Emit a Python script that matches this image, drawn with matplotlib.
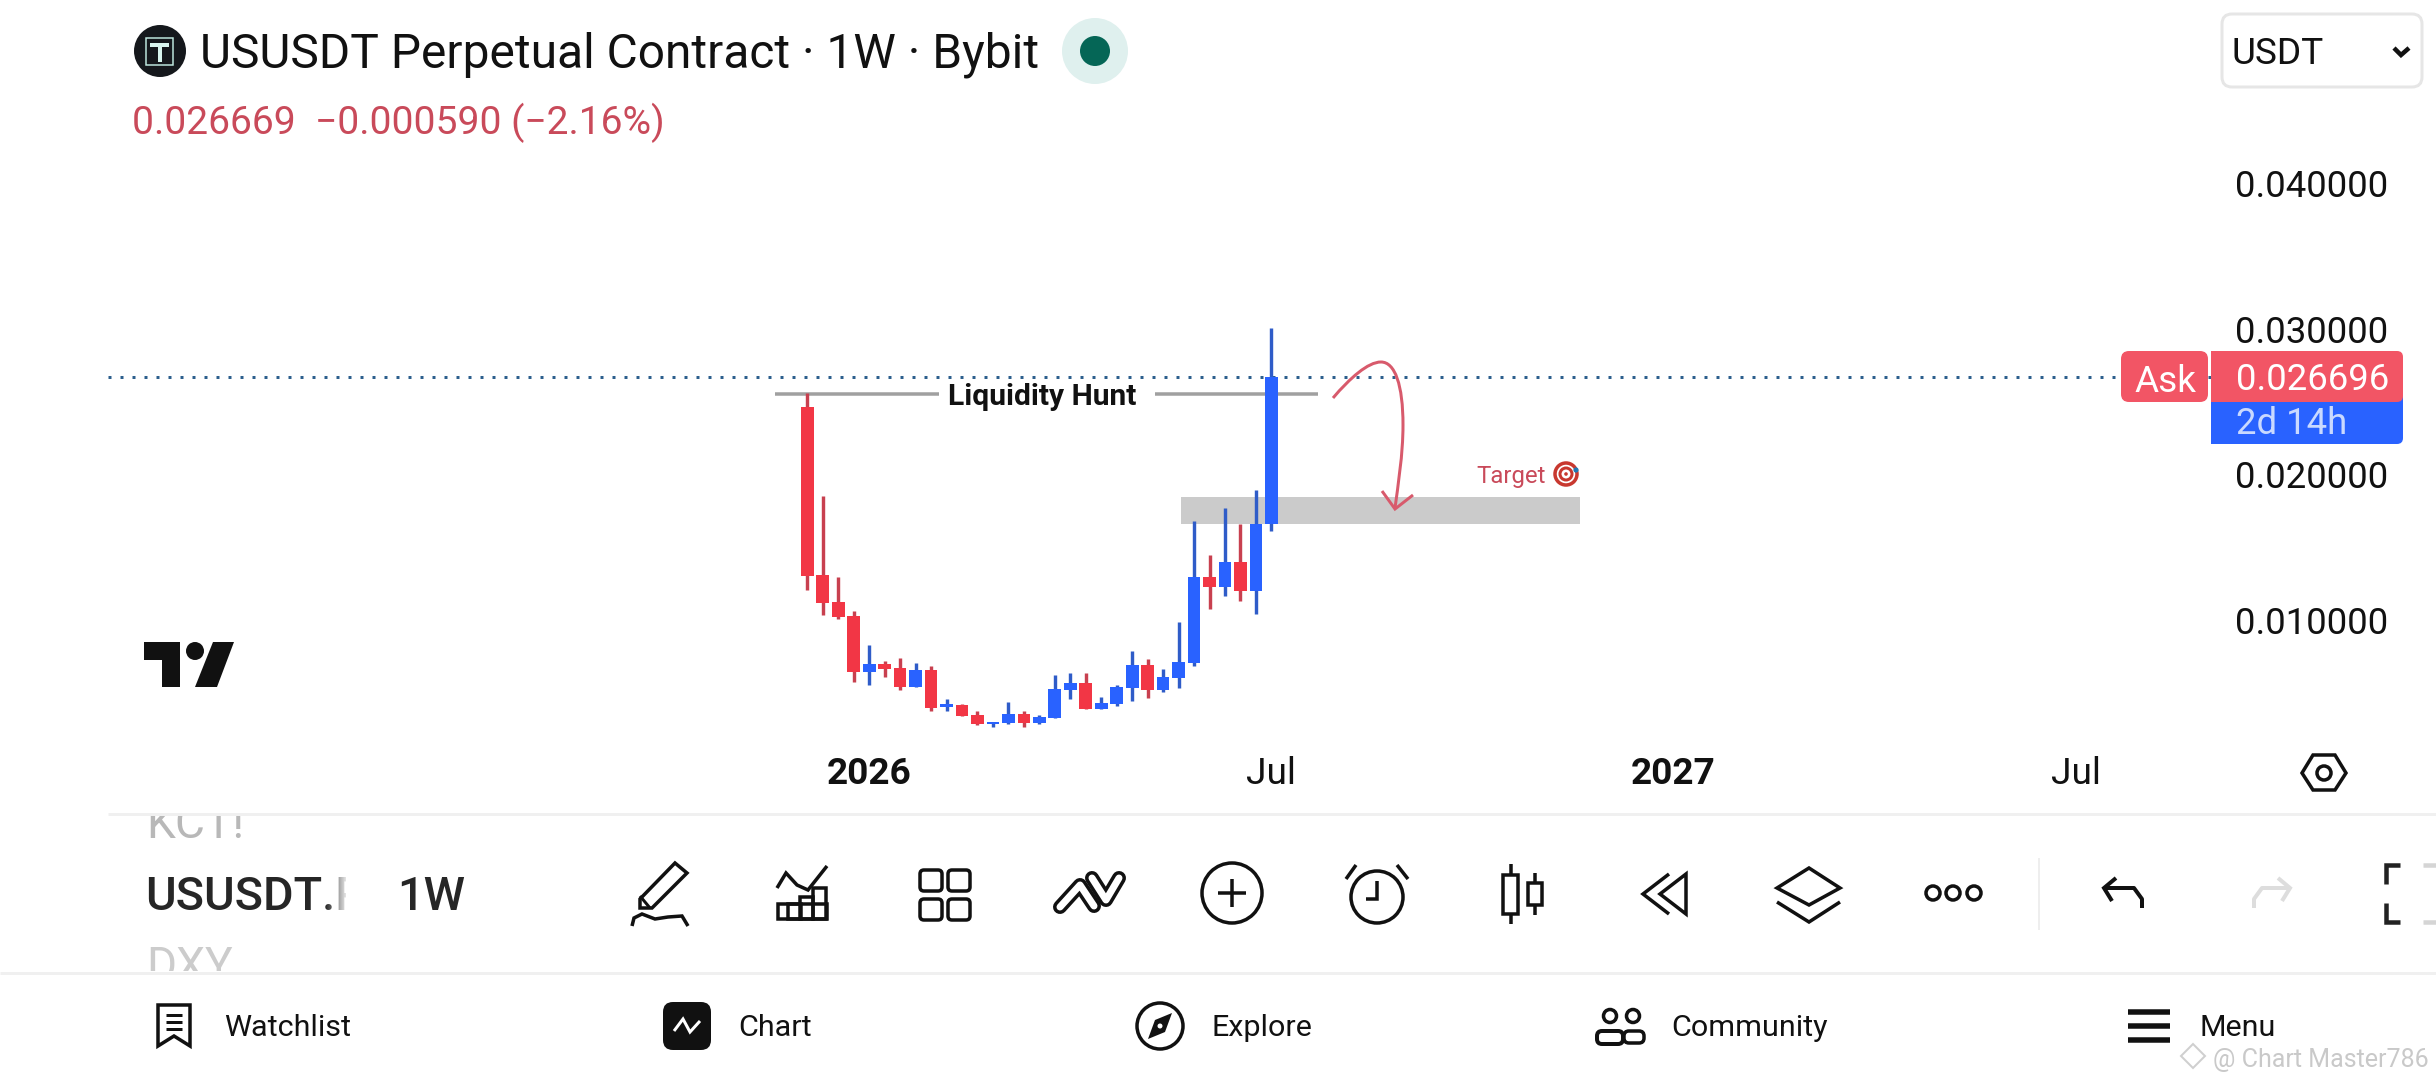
import numpy as np
import matplotlib
matplotlib.use("Agg")
import matplotlib.pyplot as plt
from matplotlib.patches import Circle, FancyBboxPatch, PathPatch, Polygon, Rectangle
from matplotlib.path import Path

plt.rcParams['font.family'] = ['Roboto', 'DejaVu Sans']

# ---- Data ----
opens = [0.02464, 0.01309, 0.01124, 0.01027, 0.00645, 0.00698, 0.00671, 0.00542, 0.00655, 0.00403, 0.00415,
         0.00348, 0.00286, 0.00291, 0.00353, 0.00295, 0.00329, 0.00522, 0.00568, 0.00391, 0.00426, 0.00535,
         0.00691, 0.00522, 0.00604, 0.00707, 0.01295, 0.01229, 0.01398, 0.01201, 0.01657]
highs = [0.02560, 0.01851, 0.01295, 0.01060, 0.00828, 0.00719, 0.00737, 0.00705, 0.00684, 0.00456, 0.00421,
         0.00375, 0.00300, 0.00435, 0.00375, 0.00346, 0.00623, 0.00636, 0.00636, 0.00472, 0.00552, 0.00787,
         0.00732, 0.00664, 0.00986, 0.01679, 0.01446, 0.01769, 0.01659, 0.01892, 0.03004]
lows = [0.01206, 0.01034, 0.01009, 0.00577, 0.00556, 0.00611, 0.00522, 0.00542, 0.00377, 0.00377, 0.00343,
        0.00281, 0.00268, 0.00288, 0.00268, 0.00288, 0.00329, 0.00460, 0.00391, 0.00391, 0.00412, 0.00446,
        0.00467, 0.00508, 0.00535, 0.00686, 0.01078, 0.01167, 0.01132, 0.01041, 0.01613]
closes = [0.01304, 0.01119, 0.01021, 0.00645, 0.00698, 0.00664, 0.00542, 0.00655, 0.00398, 0.00426, 0.00343,
          0.00288, 0.00300, 0.00353, 0.00295, 0.00332, 0.00524, 0.00568, 0.00391, 0.00430, 0.00542, 0.00691,
          0.00522, 0.00609, 0.00712, 0.01295, 0.01229, 0.01398, 0.01201, 0.01659, 0.026696]

y_ticks = [0.01, 0.02, 0.03, 0.04]
y_tick_labels = ['0.010000', '0.020000', '0.030000', '0.040000']
x_ticks = [4, 30, 56, 82]
x_tick_labels = ['2026', 'Jul', '2027', 'Jul']

ask_price = 0.026696
hunt_price = 0.02552
zone_top = 0.01844
zone_bottom = 0.01661

BLUE = '#2962ff'
RED = '#f23645'
WICK_BLUE = '#2f5cc8'
WICK_RED = '#c8404f'
TEXT_RED = '#c94a5a'
INK = '#111111'
W, H = 2436, 1080

fig = plt.figure(figsize=(W / 100, H / 100), dpi=100, facecolor='white')


def px(n):
    # pixel length to points
    return n * 0.72


# ---- Chart axes ----
L, R, T, B = 108, 2226, 130, 750
ax = fig.add_axes([L / W, 1 - B / H, (R - L) / W, (B - T) / H])
ax.set_xlim((L - 807.3) / 15.47, (R - 807.3) / 15.47)
ax.set_ylim(0.01 + (620 - B) / 14570, 0.01 + (620 - T) / 14570)
for s in ax.spines.values():
    s.set_visible(False)
ax.yaxis.tick_right()
ax.set_yticks(y_ticks)
ax.set_yticklabels(y_tick_labels, fontsize=px(36.5), color=INK)
ax.set_xticks(x_ticks)
ax.set_xticklabels(x_tick_labels, fontsize=px(37), color=INK)
ax.tick_params(length=0, pad=px(9), axis='y')
ax.tick_params(length=0, pad=px(6.5), axis='x')
for lab in ax.get_xticklabels()[::2]:
    lab.set_fontweight('bold')

ax.hlines(ask_price, ax.get_xlim()[0], ax.get_xlim()[1], color='#2c5f8d', lw=px(3), linestyles=(0, (1, 3)), zorder=1)
ax.add_patch(Rectangle((24.16, zone_bottom), 25.8, zone_top - zone_bottom, color='#cbcbcb', lw=0, zorder=1))
ax.hlines(hunt_price, -2.1, 8.5, color='#a0a0a0', lw=px(3.5), zorder=2)
ax.hlines(hunt_price, 22.5, 33.0, color='#a0a0a0', lw=px(3.5), zorder=2)

idx = np.arange(len(opens))
o, h, l, c = map(np.array, (opens, highs, lows, closes))
colors = [BLUE if cl >= op else RED for op, cl in zip(o, c)]
wicks = [WICK_BLUE if cl >= op else WICK_RED for op, cl in zip(o, c)]
ax.vlines(idx, l, h, colors=wicks, lw=px(3.4), zorder=3)
ax.bar(idx, np.abs(c - o), bottom=np.minimum(o, c), width=0.82, color=colors, lw=0, zorder=4)
ax.text(15.17, hunt_price, 'Liquidity Hunt', fontsize=px(30), fontweight='bold', color=INK,
        ha='center', va='center_baseline', zorder=5)
ax.text(45.5, 0.01999, 'Target', fontsize=px(24), color=TEXT_RED, ha='center', va='center_baseline', zorder=5)

# ---- Screen chrome, drawn in pixels ----
ui = fig.add_axes([0, 0, 1, 1], facecolor='none')
ui.set_xlim(0, W)
ui.set_ylim(H, 0)
ui.axis('off')


def line(xs, ys, color=INK, w=3.5, **kw):
    ui.plot(xs, ys, color=color, lw=px(w), solid_capstyle=kw.pop('cap', 'butt'),
            solid_joinstyle=kw.pop('join', 'miter'), **kw)


def ring(x, y, r, color=INK, w=4, fill='none', **kw):
    ui.add_patch(Circle((x, y), r, fc=fill, ec=color, lw=px(w), **kw))


def box(x0, y0, x1, y1, r, fc='none', ec='none', w=0):
    p = FancyBboxPatch((x0 + r, y0 + r), x1 - x0 - 2 * r, y1 - y0 - 2 * r, boxstyle=f'round,pad={r}',
                       fc=fc, ec=ec, lw=px(w))
    ui.add_patch(p)
    return p


def label(x, y, s, size, color=INK, ha='left', **kw):
    return ui.text(x, y, s, fontsize=px(size), color=color, ha=ha, va='center_baseline', **kw)


def clipped(x, y, s, size, color, clip, **kw):
    t = ui.text(x, y, s, fontsize=px(size), color=color, va='baseline', clip_on=True, **kw)
    t.set_clip_path(Rectangle(clip[:2], clip[2], clip[3], transform=ui.transData))
    return t


# header
ring(160, 51, 26, color='#15181c', w=0, fill='#15181c')
ui.add_patch(Rectangle((146, 38), 27, 27, fc='none', ec='#bfe8df', lw=px(1.5)))
line([150, 169], [45, 45], color='#d8f5ee', w=4)
line([160, 160], [45, 62], color='#d8f5ee', w=4)
label(200, 50, 'USUSDT Perpetual Contract · 1W · Bybit', 47.9)
ring(1095, 51, 33, color='#dff0ee', w=0, fill='#dff0ee')
ring(1095, 51, 15, color='#056656', w=0, fill='#056656')
label(132, 118, '0.026669  −0.000590 (−2.16%)', 39, color=TEXT_RED)

box(2222, 14, 2422, 87, 10, fc='white', ec='#e6e6e6', w=3)
label(2232, 50, 'USDT', 37)
line([2394, 2401, 2409], [48, 55, 48], w=4.5)

# price labels
box(2121, 351, 2208, 402, 8, fc='#f25565')
label(2165, 378, 'Ask', 37, color='white', ha='center')
box(2211, 392, 2403, 444, 6, fc=BLUE)
ui.add_patch(Rectangle((2211, 430), 8, 14, fc=BLUE, lw=0))
box(2211, 351, 2403, 402, 6, fc='#f25565')
ui.add_patch(Rectangle((2211, 351), 8, 51, fc='#f25565', lw=0))
label(2236, 376, '0.026696', 36.5, color='white')
label(2236, 420, '2d 14h', 36.5, color='#c9d9ff')

# drawn arrow and target icon
arrow_verts = [(1333, 398), (1350, 378), (1368, 362), (1381, 362), (1395, 362), (1403, 385), (1403, 425),
               (1403, 455), (1398, 485), (1395, 508)]
arrow_codes = [Path.MOVETO] + [Path.CURVE4] * 9
ui.add_patch(PathPatch(Path(arrow_verts, arrow_codes), fc='none', ec='#d85a6c', lw=px(3)))
line([1382, 1395, 1413], [491, 509, 495], color='#d85a6c', w=3)
for r, w in ((11, 3.5), (6, 3)):
    ring(1566, 474, r, color='#c8382f', w=w)
ring(1566, 474, 1.8, color='#c8382f', w=0, fill='#c8382f')
ring(1576, 470, 2.6, color='#1f78b4', w=0, fill='#1f78b4')

# tradingview logo
ui.add_patch(Polygon([(144, 642), (180, 642), (180, 687), (162, 687), (162, 660), (144, 660)], fc=INK, lw=0))
ring(195, 651, 9, color=INK, w=0, fill=INK)
ui.add_patch(Polygon([(213, 642), (234, 642), (217, 687), (195, 687)], fc=INK, lw=0))

# settings hexagon
ui.add_patch(Polygon([(2302, 773), (2313, 755), (2335, 755), (2346, 773), (2335, 790), (2313, 790)],
                     fc='none', ec=INK, lw=px(3.5)))
ring(2324, 773, 7, w=3.5)

# dividers
line([108, W], [814, 814], color='#f0f0f0', w=3)
line([0, W], [973, 973], color='#f0f0f0', w=3)

# symbol row
clipped(146, 838, 'KCT!', 46, '#b8b8b8', (100, 816, 200, 40))
clipped(146, 980, 'DXY', 46, '#cccccc', (100, 940, 200, 31))
clipped(145, 910, 'USUSDT.P', 47, '#262626', (100, 860, 246, 70), fontweight='medium')
fade = np.ones((2, 24, 4))
fade[:, :, 3] = np.linspace(0, 1, 24)
ui.imshow(fade, extent=(325, 349, 925, 860), aspect='auto', zorder=6)
ui.set_xlim(0, W)
ui.set_ylim(H, 0)
label(397, 893, '1W', 47, color='#262626', fontweight='medium')

# toolbar: pencil
ui.add_patch(Polygon([(640, 899), (675, 863), (687, 873), (652, 908), (640, 908)], fc='none', ec=INK, lw=px(3.5)))
line([640, 650], [896, 908], w=3)
line([632, 634, 642, 655, 668, 682, 688], [926, 918, 914, 919, 917, 916, 926], w=3.5)
# toolbar: chart with bars
line([777, 786, 797, 808, 827], [888, 873, 885, 890, 866], w=3.5)
ui.add_patch(Rectangle((778, 904), 49, 15, fc='none', ec=INK, lw=px(3.5)))
for x0, y0 in ((788, 904), (800, 897), (813, 888)):
    ui.add_patch(Rectangle((x0, y0), 13, 919 - y0, fc='none', ec=INK, lw=px(3.5)))
# toolbar: layout grid
for x0 in (920, 948):
    for y0 in (870, 899):
        box(x0, y0, x0 + 22, y0 + 21, 4, ec=INK, w=3.5)
# toolbar: patterns, ribbon made of a black and a white stroke
for xs, ys in (([1060, 1080, 1094], [907, 885, 906]), ([1092, 1106, 1119], [878, 900, 878])):
    line(xs, ys, w=14, cap='round', join='round')
for xs, ys in (([1060, 1080, 1094], [907, 885, 906]), ([1092, 1106, 1119], [878, 900, 878])):
    line(xs, ys, color='white', w=7, cap='round', join='round')
# toolbar: add
ring(1232, 893, 30, w=3.5)
line([1218, 1246], [893, 893], w=3.5)
line([1232, 1232], [879, 907], w=3.5)
# toolbar: alarm
ring(1377, 897, 26, w=3.5)
line([1377, 1377, 1366], [881, 899, 899], w=3.5)
line([1346, 1356], [879, 865], w=3.5)
line([1397, 1408], [865, 879], w=3.5)
# toolbar: candles
for x0, x1, y0, y1, wt, wb in ((1503, 1518, 875, 914, 864, 924), (1528, 1542, 883, 905, 873, 915)):
    ui.add_patch(Rectangle((x0, y0), x1 - x0, y1 - y0, fc='none', ec=INK, lw=px(3.5)))
    line([(x0 + x1) / 2] * 2, [wt, y0], w=3.5)
    line([(x0 + x1) / 2] * 2, [y1, wb], w=3.5)
# toolbar: rewind
ui.add_patch(Polygon([(1669, 874), (1643, 894), (1669, 914)], closed=False, fc='none', ec=INK, lw=px(3.5)))
ui.add_patch(Polygon([(1686, 874), (1660, 894), (1686, 914)], closed=True, fc='none', ec=INK, lw=px(3.5)))
# toolbar: layers
ui.add_patch(Polygon([(1809, 868), (1840, 888), (1809, 905), (1777, 888)], fc='none', ec=INK, lw=px(3.5)))
line([1777, 1809, 1840], [902, 922, 902], w=3.5)
# toolbar: more
for x0 in (1933, 1953, 1974):
    ring(x0, 893, 7, w=3.5)
line([2039, 2039], [858, 930], color='#eeeeee', w=2)
# toolbar: undo, redo
line([2142, 2142, 2134, 2106], [908, 899, 888, 888], w=4, join='round')
line([2116, 2104, 2112], [878, 888, 901], w=4)
line([2254, 2254, 2262, 2288], [908, 899, 888, 888], color='#dddddd', w=4, join='round')
line([2278, 2290, 2282], [878, 888, 901], color='#dddddd', w=4)
# toolbar: fullscreen
line([2400, 2386, 2386], [865, 865, 884], color='#222222', w=4.5)
line([2386, 2386, 2400], [903, 922, 922], color='#222222', w=4.5)
line([2423, 2436], [865, 865], color='#d5d5d5', w=4.5)
line([2423, 2436], [922, 922], color='#d5d5d5', w=4.5)

# bottom navigation
ui.add_patch(Polygon([(158, 1005), (190, 1005), (190, 1046), (174, 1036), (158, 1046)], fc='none', ec=INK, lw=px(3.5)))
for y0 in (1015, 1022, 1029):
    line([166, 182], [y0, y0], w=3)
label(224, 1025.5, 'Watchlist', 30.5)
box(663, 1002, 711, 1050, 10, fc=INK)
line([674, 683, 690, 700], [1031, 1019, 1032, 1021], color='white', w=3)
label(738, 1025.5, 'Chart', 30.5)
ring(1160, 1026, 23, w=3.5)
ui.add_patch(Polygon([(1148, 1039), (1155, 1020), (1172, 1013), (1165, 1032)], fc=INK, lw=0))
ring(1160, 1026, 2.5, color='white', w=0, fill='white')
label(1212, 1025.5, 'Explore', 30.5)
ring(1610, 1016, 6.5, w=3.5)
ring(1633, 1016, 6.5, w=3.5)
box(1597, 1031, 1623, 1044, 5, ec=INK, w=4)
box(1624, 1031, 1644, 1043, 5, ec=INK, w=3.5)
label(1671, 1025.5, 'Community', 30.5)
for y0 in (1012, 1026, 1040):
    line([2128, 2170], [y0, y0], w=5.5)
label(2200, 1025.5, 'Menu', 30.5)

# watermark
ui.add_patch(Polygon([(2193, 1044), (2205, 1056), (2193, 1068), (2181, 1056)], fc='none', ec='#cfcfcf', lw=px(2)))
label(2213, 1057, '@ Chart Master786', 25, color='#c9c9c9')

plt.savefig("out.png", dpi=100)
